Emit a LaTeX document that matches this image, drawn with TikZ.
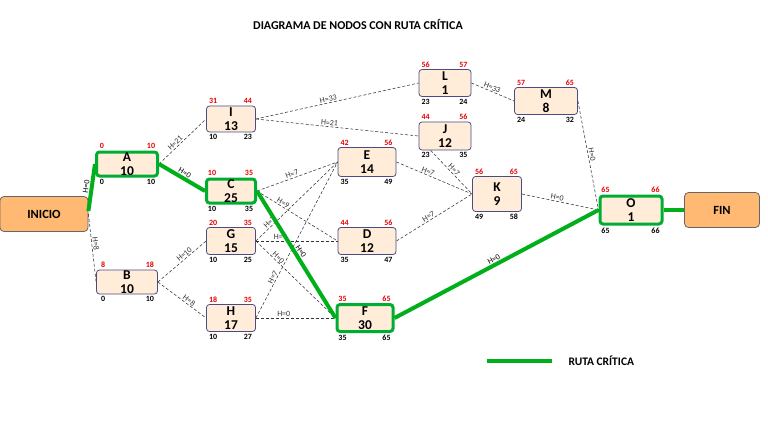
\documentclass[tikz,border=0pt]{standalone}
\usepackage{fontspec}
\setmainfont{Carlito}
\begin{document}
\begin{tikzpicture}[x=1pt,y=-1pt,
 task/.style={draw=black!45!blue!40!gray, fill=orange!15!white, rounded corners=3pt, line width=0.8pt, align=center, inner sep=0pt, font=\bfseries\fontsize{13.5}{14}\selectfont},
 crit/.style={task, draw=green!60!black!80!cyan, line width=3pt},
 term/.style={draw=black!60, fill=orange!55!white, rounded corners=4pt, line width=0.8pt, font=\bfseries\fontsize{12.5}{13}\selectfont, minimum height=35pt},
 dep/.style={densely dashed, line width=0.55pt, black!80},
 cr/.style={line width=4pt, green!65!black!90!cyan},
 lab/.style={font=\fontsize{8}{9}\selectfont, sloped, above, inner sep=1pt},
 es/.style={font=\bfseries\fontsize{8}{9}\selectfont, red!90!black, anchor=south, inner sep=1.5pt},
 ls/.style={font=\bfseries\fontsize{8}{9}\selectfont, anchor=north, inner sep=2pt}]
\useasboundingbox (0,0) rectangle (768,433);
\newcommand\nums[5]{%
 \node[es] at ([xshift=7pt]#1.north west) {#2};
 \node[es] at ([xshift=-8pt]#1.north east) {#3};
 \node[ls] at ([xshift=7pt]#1.south west) {#4};
 \node[ls] at ([xshift=-8pt]#1.south east) {#5};}
\node[font=\bfseries\fontsize{12}{14}\selectfont] (title) at (358,25) {DIAGRAMA DE NODOS CON RUTA CRÍTICA};
\node[term, minimum width=88pt] (INI) at (44,214) {INICIO};
\node[term, minimum width=75pt] (FIN) at (722,210) {FIN};
\node[crit, minimum width=61pt, minimum height=24pt] (A) at (127,164) {A\\10};
\node[task, minimum width=61pt, minimum height=24pt] (B) at (127,282) {B\\10};
\node[task, minimum width=49pt, minimum height=26pt] (I) at (231,119) {I\\13};
\node[crit, minimum width=49pt, minimum height=24pt] (C) at (231,191) {C\\25};
\node[task, minimum width=49pt, minimum height=27pt] (G) at (231,241) {G\\15};
\node[task, minimum width=49pt, minimum height=27pt] (H) at (231,318) {H\\17};
\node[task, minimum width=58pt, minimum height=29pt] (E) at (367,162) {E\\14};
\node[task, minimum width=58pt, minimum height=27pt] (D) at (367,241) {D\\12};
\node[crit, minimum width=56pt, minimum height=27pt] (F) at (365,318) {F\\30};
\node[task, minimum width=52pt, minimum height=27pt] (L) at (445,83) {L\\1};
\node[task, minimum width=52pt, minimum height=28pt] (J) at (445,136) {J\\12};
\node[task, minimum width=49pt, minimum height=35pt] (K) at (497,194) {K\\9};
\node[task, minimum width=63pt, minimum height=27pt] (M) at (546,101) {M\\8};
\node[crit, minimum width=62pt, minimum height=28pt] (O) at (631,210) {O\\1};
\nums{A}{0}{10}{0}{10}
\nums{B}{8}{18}{0}{10}
\nums{I}{31}{44}{10}{23}
\nums{C}{10}{35}{10}{35}
\nums{G}{20}{35}{10}{25}
\nums{H}{18}{35}{10}{27}
\nums{E}{42}{56}{35}{49}
\nums{D}{44}{56}{35}{47}
\nums{F}{35}{65}{35}{65}
\nums{L}{56}{57}{23}{24}
\nums{J}{44}{56}{23}{35}
\nums{K}{56}{65}{49}{58}
\nums{M}{57}{65}{24}{32}
\nums{O}{65}{66}{65}{66}
% dependencies
\draw[dep] (INI.east) -- node[lab,pos=0.45]{H=8} (B.west);
\draw[dep] (A.east) -- node[lab,pos=0.4]{H=21} (I.west);
\draw[dep] (B.east) -- node[lab,pos=0.6]{H=10} (G.west);
\draw[dep] (B.east) -- node[lab,pos=0.6]{H=8} (H.west);
\draw[dep] (I.east) -- node[lab,pos=0.45]{H=33} (L.west);
\draw[dep] (I.east) -- node[lab,pos=0.45]{H=21} (J.west);
\draw[dep] (C.east) -- node[lab,pos=0.45]{H=7} (E.west);
\draw[dep] (C.east) -- node[lab,pos=0.3]{H=9} (D.west);
\draw[dep] (G.east) -- node[lab,pos=0.2]{H=7} (E.west);
\draw[dep] (G.east) -- node[lab,pos=0.3]{H=9} (D.west);
\draw[dep] (G.east) -- node[lab,pos=0.25]{H=0} (F.west);
\draw[dep] (H.east) -- node[lab,pos=0.25]{H=7} (E.west);
\draw[dep] (H.east) -- node[lab,pos=0.35]{H=0} (F.west);
\draw[dep] (E.east) -- node[lab,pos=0.4]{H=7} (K.west);
\draw[dep] (D.east) -- node[lab,pos=0.45]{H=7} (K.west);
\draw[dep] (J.south west) ++(12,0) coordinate (js) -- node[lab,pos=0.5]{H=7} (K.west);
\draw[dep] (L.east) -- node[lab,pos=0.45]{H=33} (M.west);
\draw[dep] (K.east) -- node[lab,pos=0.45]{H=0} (O.west);
\draw[dep] (M.east) -- node[lab,pos=0.5]{H=0} (O.west);
% critical path
\draw[cr] ([yshift=3pt]INI.east) -- node[lab,pos=0.5,black]{H=0} (A.west);
\draw[cr] (A.east) -- node[lab,pos=0.5,black]{H=0} (C.west);
\draw[cr] (C.east) -- node[lab,pos=0.5,black]{H=0} (F.west);
\draw[cr] (F.east) -- node[lab,pos=0.5,black]{H=0} (O.west);
\draw[cr] (O.east) -- (FIN.west);
% legend
\coordinate (l1) at (487,361);
\coordinate (l2) at (552,361);
\draw[cr] (l1) -- (l2);
\node[font=\bfseries\fontsize{11.5}{13}\selectfont, anchor=west] (leg) at (565,361) {RUTA CRÍTICA};
\end{tikzpicture}
\end{document}
